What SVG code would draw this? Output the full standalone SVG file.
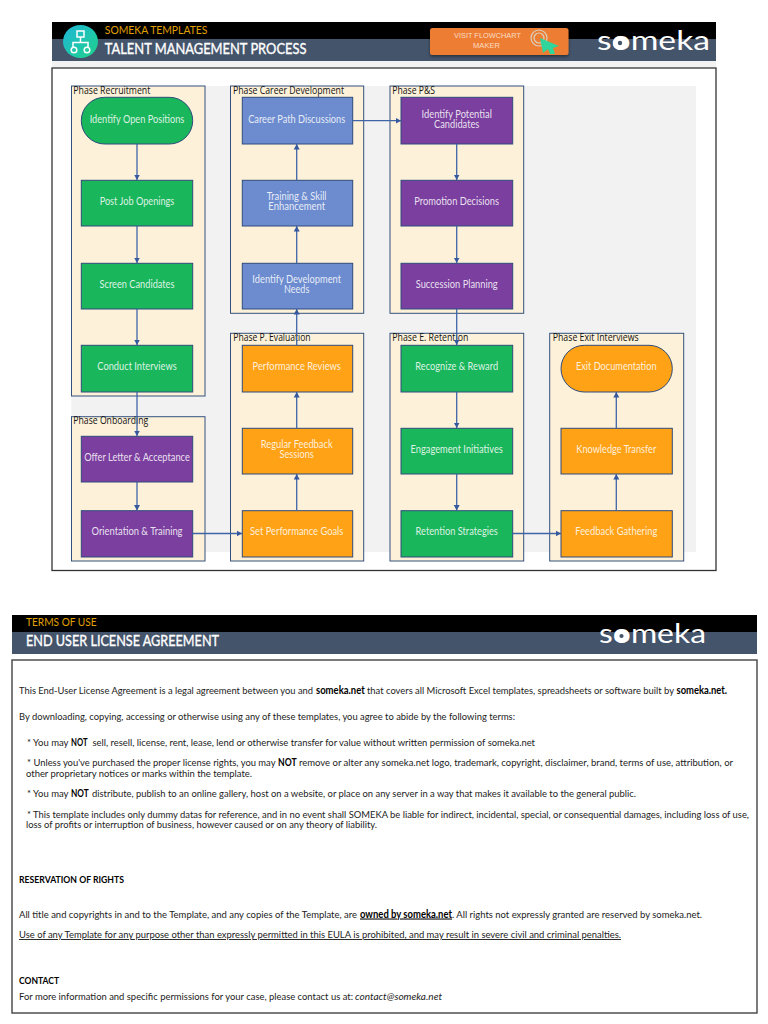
<svg xmlns="http://www.w3.org/2000/svg" width="768" height="1024" viewBox="0 0 768 1024">
<style>
text{font-family:"Lato","Liberation Sans",sans-serif}
.lane{fill:#fdf2d9;stroke:#34507f;stroke-width:1}
.ll{font-family:"Open Sans","Liberation Sans",sans-serif;font-size:10px;fill:#111}
.n{stroke:#2f4a7c;stroke-width:1}
.g{fill:#1ab65c}.b{fill:#6d8ccf}.p{fill:#7b3fa0}.o{fill:#ffa216}
.nt{font-size:10.500px;fill:#fff;fill-opacity:.85;text-anchor:middle;transform:translateY(-.3px)}
.c{fill:none;stroke:#3f64a8;stroke-width:1.300;marker-end:url(#ah)}
.f{fill:none;stroke:#444;stroke-width:1.400}
.e{font-size:9.500px;fill:#222}
.bd{font-weight:700;fill:#000}
.big{font-size:10.500px}
.logo{font-size:27px;fill:#fff}
.h{font-size:15px;fill:#fff;stroke:#fff;stroke-width:.35px}
</style>
<defs>
<marker id="ah" markerUnits="userSpaceOnUse" markerWidth="7" markerHeight="7" refX="5.500" refY="3.500" orient="auto"><path d="M0,.5 L5.500,3.500 L0,6.500 Z" fill="#35589f"/></marker>
<linearGradient id="ig" x1="0" y1="0" x2="1" y2="1"><stop offset="0" stop-color="#1fb6d8"/><stop offset="1" stop-color="#1fd28a"/></linearGradient>
<filter id="sh" x="-10%" y="-20%" width="120%" height="150%"><feDropShadow dx="0" dy="1.500" stdDeviation="1.500" flood-color="#000" flood-opacity=".45"/></filter>
</defs>
<rect width="768" height="1024" fill="#fff"/>

<g id="top-header">
<rect x="52" y="61" width="664" height="6" fill="#f2f2f2"/>
<rect x="52" y="22" width="664" height="17" fill="#000"/>
<rect x="52" y="39" width="664" height="22" fill="#44546a"/>
<ellipse cx="80.500" cy="41.500" rx="17.500" ry="16.500" fill="url(#ig)"/>
<g fill="none" stroke="#fff" stroke-width="1.500"><rect x="77" y="31" width="7" height="6"/><path d="M80.500,37V42M73,48V42.500H88V48"/><circle cx="74" cy="50" r="2.800"/><circle cx="87" cy="50" r="2.800"/></g>
<text x="104.800" y="34" font-size="12" fill="#e0a000" textLength="102.600" lengthAdjust="spacingAndGlyphs">SOMEKA TEMPLATES</text>
<text x="104.800" y="54" class="h" textLength="201.700" lengthAdjust="spacingAndGlyphs">TALENT MANAGEMENT PROCESS</text>
<rect x="430" y="28" width="138.500" height="27" rx="2.500" fill="#ed7d31" filter="url(#sh)"/>
<text x="487.500" y="37.700" font-size="7.500" fill="#fbdcc4" text-anchor="middle" textLength="67" lengthAdjust="spacingAndGlyphs" style="font-family:'Liberation Sans',sans-serif">VISIT FLOWCHART</text>
<text x="486.500" y="48" font-size="7.500" fill="#fbdcc4" text-anchor="middle" textLength="27" lengthAdjust="spacingAndGlyphs" style="font-family:'Liberation Sans',sans-serif">MAKER</text>
<g fill="none" stroke="#d9d2c0" stroke-width="1.200"><circle cx="539" cy="38" r="8"/><circle cx="539" cy="38" r="5"/></g>
<path d="M540,38 L559,46 L553,48 L555,54 L550,54 L548,49 L543,53 Z" fill="#2fd59a"/>
<text x="597" y="50" class="logo" textLength="113" lengthAdjust="spacingAndGlyphs">someka</text>
<circle cx="620" cy="43" r="7" fill="#fff"/><circle cx="620" cy="43" r="2.200" fill="#44546a"/>
</g>

<rect id="frame-top" x="52" y="68" width="664" height="502.500" fill="#fff" stroke="#333" stroke-width="1.300"/>
<rect id="canvas" x="71.300" y="86" width="624.700" height="466" fill="#f2f2f2"/>

<g id="lane-recruitment"><rect class="lane" x="71.500" y="86" width="133.500" height="310"/><text class="ll" x="73.300" y="93.500" textLength="77" lengthAdjust="spacingAndGlyphs">Phase Recruitment</text></g>
<g id="lane-career"><rect class="lane" x="230.500" y="86" width="133.200" height="227.300"/><text class="ll" x="233" y="93.500" textLength="111" lengthAdjust="spacingAndGlyphs">Phase Career Development</text></g>
<g id="lane-ps"><rect class="lane" x="390" y="86" width="133.700" height="227.300"/><text class="ll" x="392.300" y="93.500" textLength="42.700" lengthAdjust="spacingAndGlyphs">Phase P&amp;S</text></g>
<g id="lane-onboarding"><rect class="lane" x="71.500" y="416.700" width="133.500" height="144.300"/><text class="ll" x="73.300" y="423.500" textLength="75" lengthAdjust="spacingAndGlyphs">Phase Onboarding</text></g>
<g id="lane-evaluation"><rect class="lane" x="230.500" y="333.300" width="133.200" height="227.700"/><text class="ll" x="233.300" y="341" textLength="77.300" lengthAdjust="spacingAndGlyphs">Phase P. Evaluation</text></g>
<g id="lane-retention"><rect class="lane" x="390" y="333.300" width="133.700" height="227.700"/><text class="ll" x="392.300" y="341" textLength="76" lengthAdjust="spacingAndGlyphs">Phase E. Retention</text></g>
<g id="lane-exit"><rect class="lane" x="549.700" y="333.300" width="134" height="227.700"/><text class="ll" x="552.700" y="341" textLength="86" lengthAdjust="spacingAndGlyphs">Phase Exit Interviews</text></g>

<g id="n-open"><rect class="n g" x="81.300" y="97.300" width="111.400" height="46.700" rx="23.300"/><text class="nt" x="137" y="123.500" textLength="94.700" lengthAdjust="spacingAndGlyphs">Identify Open Positions</text></g>
<g id="n-post"><rect class="n g" x="81.300" y="180.300" width="111.400" height="45.700"/><text class="nt" x="137" y="205.500" textLength="74.700" lengthAdjust="spacingAndGlyphs">Post Job Openings</text></g>
<g id="n-screen"><rect class="n g" x="81.300" y="263.300" width="111.400" height="45.700"/><text class="nt" x="137" y="288.500" textLength="75" lengthAdjust="spacingAndGlyphs">Screen Candidates</text></g>
<g id="n-conduct"><rect class="n g" x="81.300" y="345.300" width="111.400" height="46.700"/><text class="nt" x="137" y="370.500" textLength="79.300" lengthAdjust="spacingAndGlyphs">Conduct Interviews</text></g>
<g id="n-offer"><rect class="n p" x="81.300" y="436.300" width="111.400" height="45.700"/><text class="nt" x="137" y="461.500" textLength="105.700" lengthAdjust="spacingAndGlyphs">Offer Letter &amp; Acceptance</text></g>
<g id="n-orient"><rect class="n p" x="81.300" y="510.700" width="111.400" height="46.300"/><text class="nt" x="137" y="535.500" textLength="91" lengthAdjust="spacingAndGlyphs">Orientation &amp; Training</text></g>

<g id="n-path"><rect class="n b" x="242.300" y="97.300" width="110.400" height="46.700"/><text class="nt" x="296.700" y="123.500" textLength="97" lengthAdjust="spacingAndGlyphs">Career Path Discussions</text></g>
<g id="n-training"><rect class="n b" x="242.300" y="180.300" width="110.400" height="45.700"/><text class="nt" x="296.700" y="200.500" textLength="59.700" lengthAdjust="spacingAndGlyphs">Training &amp; Skill</text><text class="nt" x="296.700" y="210.500" textLength="56.700" lengthAdjust="spacingAndGlyphs">Enhancement</text></g>
<g id="n-needs"><rect class="n b" x="242.300" y="263.300" width="110.400" height="45.700"/><text class="nt" x="296.700" y="283.500" textLength="88.700" lengthAdjust="spacingAndGlyphs">Identify Development</text><text class="nt" x="296.700" y="293.500" textLength="25.300" lengthAdjust="spacingAndGlyphs">Needs</text></g>
<g id="n-reviews"><rect class="n o" x="242.300" y="345.300" width="110.400" height="46.700"/><text class="nt" x="296.700" y="370.500" textLength="88.300" lengthAdjust="spacingAndGlyphs">Performance Reviews</text></g>
<g id="n-feedback"><rect class="n o" x="242.300" y="428.300" width="110.400" height="45.700"/><text class="nt" x="296.700" y="448.500" textLength="72" lengthAdjust="spacingAndGlyphs">Regular Feedback</text><text class="nt" x="296.700" y="458.500" textLength="34.300" lengthAdjust="spacingAndGlyphs">Sessions</text></g>
<g id="n-goals"><rect class="n o" x="242.300" y="510.700" width="110.400" height="46.300"/><text class="nt" x="296.700" y="535.500" textLength="93.300" lengthAdjust="spacingAndGlyphs">Set Performance Goals</text></g>

<g id="n-potential"><rect class="n p" x="401" y="97.300" width="111.700" height="46.700"/><text class="nt" x="456.700" y="118.500" textLength="70.300" lengthAdjust="spacingAndGlyphs">Identify Potential</text><text class="nt" x="456.700" y="128.500" textLength="45.300" lengthAdjust="spacingAndGlyphs">Candidates</text></g>
<g id="n-promotion"><rect class="n p" x="401" y="180.300" width="111.700" height="45.700"/><text class="nt" x="456.700" y="205.500" textLength="84.700" lengthAdjust="spacingAndGlyphs">Promotion Decisions</text></g>
<g id="n-succession"><rect class="n p" x="401" y="263.300" width="111.700" height="45.700"/><text class="nt" x="456.700" y="288.500" textLength="82" lengthAdjust="spacingAndGlyphs">Succession Planning</text></g>
<g id="n-recognize"><rect class="n g" x="401" y="345.300" width="111.700" height="46.700"/><text class="nt" x="456.700" y="370.500" textLength="82.700" lengthAdjust="spacingAndGlyphs">Recognize &amp; Reward</text></g>
<g id="n-engage"><rect class="n g" x="401" y="428.300" width="111.700" height="45.700"/><text class="nt" x="456.700" y="453.500" textLength="92.300" lengthAdjust="spacingAndGlyphs">Engagement Initiatives</text></g>
<g id="n-retain"><rect class="n g" x="401" y="510.700" width="111.700" height="46.300"/><text class="nt" x="456.700" y="535.500" textLength="82.300" lengthAdjust="spacingAndGlyphs">Retention Strategies</text></g>

<g id="n-exitdoc"><rect class="n o" x="561" y="345.300" width="111.300" height="46.700" rx="23.300"/><text class="nt" x="616.300" y="370.500" textLength="80.700" lengthAdjust="spacingAndGlyphs">Exit Documentation</text></g>
<g id="n-transfer"><rect class="n o" x="561" y="428.300" width="111.300" height="45.700"/><text class="nt" x="616.300" y="453.500" textLength="80" lengthAdjust="spacingAndGlyphs">Knowledge Transfer</text></g>
<g id="n-gather"><rect class="n o" x="561" y="510.700" width="111.300" height="46.300"/><text class="nt" x="616.300" y="535.500" textLength="82" lengthAdjust="spacingAndGlyphs">Feedback Gathering</text></g>

<g id="connectors">
<path class="c" d="M137,144V180"/><path class="c" d="M137,226V263"/><path class="c" d="M137,309V345"/><path class="c" d="M137,392V436"/><path class="c" d="M137,482V510.500"/>
<path class="c" d="M192.700,533.500H242"/>
<path class="c" d="M296.700,511V474"/><path class="c" d="M296.700,428.300V392"/><path class="c" d="M296.700,345.300V309"/><path class="c" d="M296.700,263.300V226"/><path class="c" d="M296.700,180.300V144"/>
<path class="c" d="M352.700,120.700H401"/>
<path class="c" d="M456.700,144V180"/><path class="c" d="M456.700,226V263"/><path class="c" d="M456.700,309V345"/><path class="c" d="M456.700,392V428"/><path class="c" d="M456.700,474V510.500"/>
<path class="c" d="M512.700,533.500H561"/>
<path class="c" d="M616.300,510.700V474"/><path class="c" d="M616.300,428.300V392"/>
</g>

<g id="eula-header">
<rect x="12" y="615" width="745" height="17" fill="#000"/>
<rect x="12" y="632" width="745" height="22" fill="#44546a"/>
<text x="26" y="626" font-size="12" fill="#e0a000" textLength="70.600" lengthAdjust="spacingAndGlyphs">TERMS OF USE</text>
<text x="26" y="646" class="h" textLength="193" lengthAdjust="spacingAndGlyphs">END USER LICENSE AGREEMENT</text>
<text x="599" y="642.700" class="logo" textLength="107" lengthAdjust="spacingAndGlyphs">someka</text>
<circle cx="621.500" cy="636" r="6.700" fill="#fff"/><circle cx="621.500" cy="636" r="2.100" fill="#44546a"/>
</g>
<rect id="eula-frame" x="12" y="660" width="745" height="353" class="f"/>

<g id="eula-text">
<text class="e" y="694"><tspan x="19" textLength="294" lengthAdjust="spacingAndGlyphs">This End-User License Agreement is a legal agreement between you and</tspan><tspan class="bd big" x="316" textLength="48.700" lengthAdjust="spacingAndGlyphs">someka.net</tspan><tspan x="367" textLength="307" lengthAdjust="spacingAndGlyphs">that covers all Microsoft Excel templates, spreadsheets or software built by</tspan><tspan class="bd big" x="676.500" textLength="50.500" lengthAdjust="spacingAndGlyphs">someka.net.</tspan></text>
<text class="e" x="19" y="720" textLength="496" lengthAdjust="spacingAndGlyphs">By downloading, copying, accessing or otherwise using any of these templates, you agree to abide by the following terms:</text>
<text class="e" y="746"><tspan x="27" textLength="41.500" lengthAdjust="spacingAndGlyphs">* You may</tspan><tspan class="bd big" x="71" textLength="16.500" lengthAdjust="spacingAndGlyphs">NOT</tspan><tspan x="92.500" textLength="442.500" lengthAdjust="spacingAndGlyphs">sell, resell, license, rent, lease, lend or otherwise transfer for value without written permission of someka.net</tspan></text>
<text class="e" y="766"><tspan x="27" textLength="248.500" lengthAdjust="spacingAndGlyphs">* Unless you've purchased the proper license rights, you may</tspan><tspan class="bd big" x="278" textLength="18.600" lengthAdjust="spacingAndGlyphs">NOT</tspan><tspan x="299" textLength="434" lengthAdjust="spacingAndGlyphs">remove or alter any someka.net logo, trademark, copyright, disclaimer, brand, terms of use, attribution, or</tspan></text>
<text class="e" x="26" y="777" textLength="226" lengthAdjust="spacingAndGlyphs">other proprietary notices or marks within the template.</text>
<text class="e" y="797"><tspan x="27" textLength="41.500" lengthAdjust="spacingAndGlyphs">* You may</tspan><tspan class="bd big" x="71" textLength="17.700" lengthAdjust="spacingAndGlyphs">NOT</tspan><tspan x="92" textLength="544" lengthAdjust="spacingAndGlyphs">distribute, publish to an online gallery, host on a website, or place on any server in a way that makes it available to the general public.</tspan></text>
<text class="e" x="27" y="817.500" textLength="722" lengthAdjust="spacingAndGlyphs">* This template includes only dummy datas for reference, and in no event shall SOMEKA be liable for indirect, incidental, special, or consequential damages, including loss of use,</text>
<text class="e" x="26" y="827.500" textLength="351" lengthAdjust="spacingAndGlyphs">loss of profits or interruption of business, however caused or on any theory of liability.</text>
<text class="e bd" x="19" y="883" textLength="105" lengthAdjust="spacingAndGlyphs">RESERVATION OF RIGHTS</text>
<text class="e" y="917.500"><tspan x="19" textLength="338" lengthAdjust="spacingAndGlyphs">All title and copyrights in and to the Template, and any copies of the Template, are</tspan><tspan class="bd big" x="360" textLength="92" lengthAdjust="spacingAndGlyphs" text-decoration="underline">owned by someka.net</tspan><tspan x="452" textLength="250" lengthAdjust="spacingAndGlyphs">. All rights not expressly granted are reserved by someka.net.</tspan></text>
<text class="e" x="19" y="938" textLength="602" lengthAdjust="spacingAndGlyphs" text-decoration="underline">Use of any Template for any purpose other than expressly permitted in this EULA is prohibited, and may result in severe civil and criminal penalties.</text>
<text class="e bd" x="19" y="984" textLength="40" lengthAdjust="spacingAndGlyphs">CONTACT</text>
<text class="e" y="1000"><tspan x="19" textLength="334" lengthAdjust="spacingAndGlyphs">For more information and specific permissions for your case, please contact us at:</tspan><tspan x="355" textLength="87" lengthAdjust="spacingAndGlyphs" font-style="italic">contact@someka.net</tspan></text>
</g>
</svg>
